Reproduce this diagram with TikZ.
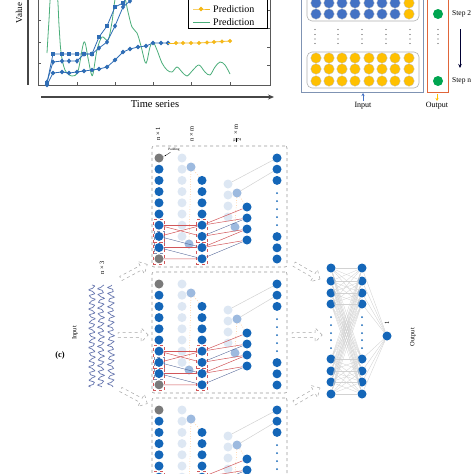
\documentclass[tikz,border=0pt]{standalone}
\usepackage{fontspec}
\setmainfont{Liberation Serif}
\usetikzlibrary{shapes.arrows,arrows.meta,fit,plotmarks}
\definecolor{cblue}{HTML}{1466B8}
\definecolor{cfade}{HTML}{DDE7F3}
\definecolor{cmed}{HTML}{9DBADF}
\definecolor{cgray}{HTML}{7A7A7A}
\definecolor{sblue}{HTML}{2F6DB5}
\definecolor{syel}{HTML}{F5B819}
\definecolor{sgreen}{HTML}{4BAE7A}
\definecolor{pblue}{HTML}{4472C4}
\definecolor{porange}{HTML}{FFC000}
\definecolor{pgreen}{HTML}{00A550}
\definecolor{pred}{HTML}{E0663A}
\definecolor{pframe}{HTML}{7F93B3}
\definecolor{rline}{HTML}{D2575A}
\definecolor{dline}{HTML}{4A5E92}
\definecolor{wave}{HTML}{6878B0}
\tikzset{
  myblue/.style={circle,fill=cblue,draw=none,minimum size=9pt,inner sep=0pt},
  myfade/.style={circle,fill=cfade,draw=none,minimum size=9pt,inner sep=0pt},
  mymid/.style={circle,fill=cmed,draw=none,minimum size=9pt,inner sep=0pt},
  mygray/.style={circle,fill=cgray,draw=none,minimum size=9pt,inner sep=0pt},
  mydot/.style={circle,fill=cblue,draw=none,minimum size=2pt,inner sep=0pt},
  mybox/.style={draw=gray!80,dashed,line width=0.6pt,rounded corners=2pt,inner sep=0pt},
  myrwin/.style={draw=rline,dashed,line width=0.45pt,inner sep=1pt,rectangle},
  mybwin/.style={draw=dline!70,dashed,line width=0.4pt,inner sep=0.5pt,rectangle},
  myrl/.style={draw=rline,line width=0.5pt},
  mydl/.style={draw=dline,line width=0.35pt},
  mygl/.style={draw=gray!35,line width=0.5pt},
  mydotl/.style={draw=orange!70,dotted,line width=0.5pt},
  myarrow/.style={single arrow,draw=gray!70,dashed,line width=0.5pt,minimum height=30pt,minimum width=14pt,single arrow head extend=2.5pt,inner sep=1pt,fill=white},
  mypc/.style={circle,draw=gray!50,line width=0.3pt,minimum size=10.5pt,inner sep=0pt},
  mypdot/.style={circle,fill=black!70,minimum size=1.1pt,inner sep=0pt},
  mylab/.style={font=\fontsize{6.5}{7}\selectfont,inner sep=0pt},
}
\newcommand{\cnnblock}[2]{%
\begin{scope}[shift={(0,#2)}]
 \node[mybox,minimum width=135pt,minimum height=121pt] (#1box) at (219.5,206.5) {};
 \foreach \i in {0,...,7} \node[myfade] (#1b\i) at (182,{158+11.2*\i}) {};
 \foreach \i in {0,...,3} \node[myfade] (#1d\i) at (228,{184+11*\i}) {};
 \node[mymid] (#1bm1) at (191,167) {};
 \node[mymid] (#1bm2) at (189,244) {};
 \node[mymid] (#1dm1) at (237,193) {};
 \node[mymid] (#1dm2) at (235,227) {};
 \node[mygray] (#1a0) at (159,158) {};
 \foreach \i in {1,...,8} \node[myblue] (#1a\i) at (159,{158+11.2*\i}) {};
 \node[mygray] (#1a9) at (159,258.8) {};
 \foreach \i in {2,...,9} \node[myblue] (#1c\i) at (202,{158+11.2*\i}) {};
 \foreach \i in {0,...,3} \node[myblue] (#1e\i) at (247,{207+11*\i}) {};
 \foreach \i in {0,1,2} \node[myblue] (#1f\i) at (277,{158+11.2*\i}) {};
 \foreach \i in {0,...,4} \node[mydot] (#1g\i) at (277,{193+8*\i}) {};
 \foreach \i in {3,4,5} \node[myblue] (#1f\i) at (277,{203+11.2*\i}) {};
 \draw[mygl] (#1d0) -- (#1f0);
 \draw[mygl] (#1dm1) -- (#1f1);
 \draw[mydotl] (#1bm1) -- (#1c2);
 \draw[mydotl] (#1bm1) -- (#1bm2);
 \draw[mydotl] (#1dm1) -- (#1e0);
 \draw[mydotl] (#1dm1) -- (#1dm2);
 \node[myrwin,fit=(#1a6)(#1a7)] (#1w1) {};
 \node[mybwin,fit=(#1a7)(#1a8)] (#1w2) {};
 \node[myrwin,fit=(#1a8)(#1a9)] (#1w3) {};
 \node[myrwin,fit=(#1c6)(#1c7)] (#1w4) {};
 \node[myrwin,fit=(#1c8)(#1c9)] (#1w5) {};
 \draw[myrl] (#1a6) -- (#1c6);
 \draw[myrl] (#1a6) -- (#1c7);
 \draw[mydl] (#1a7) -- (#1c8);
 \draw[myrl] (#1a7) -- (#1c6);
 \draw[mydl] (#1a8) -- (#1c9);
 \draw[myrl] (#1a8) -- (#1c8);
 \draw[myrl] (#1a9) -- (#1c9);
 \draw[myrl] (#1c6) -- (#1e1);
 \draw[myrl] (#1c6) -- (#1e0);
 \draw[myrl] (#1c7) -- (#1e2);
 \draw[mydl] (#1c7) -- (#1e1);
 \draw[myrl] (#1c8) -- (#1e2);
 \draw[myrl] (#1c8) -- (#1e3);
 \draw[mydl] (#1c9) -- (#1e3);
\end{scope}}
\begin{document}
\begin{tikzpicture}[x=1pt,y=-1pt]
\useasboundingbox (0,0) rectangle (474,474);
\clip (0,0) rectangle (474,474);
\fill[white] (0,0) rectangle (474,474);
% ---------------- (a) chart
\node[rotate=90,font=\fontsize{9}{10}\selectfont,inner sep=0.5pt] (vlab) at (19,13) {Value};
\draw[line width=1.6pt,gray!55!black] (28,-2) -- (28,85);
\draw[gray!70!black,line width=0.6pt] (38,-2) -- (38,85) -- (270,85) -- (270,-2);
\foreach \yy in {20,42,63} \draw[gray!70!black,line width=0.5pt] (38,\yy) -- (41,\yy);
\foreach \xx in {77,115,153,191,230} \draw[gray!70!black,line width=0.5pt] (\xx,85) -- (\xx,82);
\foreach \yy in {10,28,47,65} \draw[gray!70!black,line width=0.5pt] (270,\yy) -- (267,\yy);
\coordinate (tsA) at (41,97);
\coordinate (tsB) at (274,97);
\draw[line width=1.3pt,gray!55!black,-{Stealth[length=6pt,width=5pt]}] (tsA) -- (tsB);
\node[font=\fontsize{10.5}{11}\selectfont] (tslab) at (155,104.5) {Time series};
% green curve
\draw[sgreen,line width=0.8pt] plot[smooth,tension=0.55] coordinates {(47,53) (49,20) (51,-6) (57,-6) (59,25) (61,52) (65,70) (72,76) (78,71) (84,42) (88,58) (91,73) (93,74) (97,50) (102,37) (108,40) (112,22) (116,-4) (124,-4) (128,12) (132,27) (137,33) (141,46) (145,62) (147,61) (150,47) (153,42) (157,50) (162,63) (167,70) (172,72) (177,67) (182,72) (187,76) (193,70) (199,65) (205,72) (210,75) (215,67) (220,62) (225,65) (230,74)};
% blue series
\draw[sblue,line width=0.8pt] plot[mark=square*,mark size=1.7pt] coordinates {(47,83) (53,54) (62,54) (69,54) (77,54) (84,54) (92,54) (99,37) (107,26) (115,7) (123,3) (130,-8)};
\draw[sblue,line width=0.8pt] plot[mark=diamond*,mark size=2pt] coordinates {(47,82) (53,62) (62,61) (69,61) (77,61) (84,54) (92,54) (99,48) (107,42) (115,26) (123,7) (130,1) (136,-8)};
\draw[sblue,line width=0.8pt] plot[mark=*,mark size=1.7pt] coordinates {(47,85) (53,73) (62,72) (69,73) (77,72) (84,71) (92,70) (99,69) (107,67) (115,60) (123,52) (130,49) (138,47) (146,46) (153,43) (161,43) (168,43)};
\draw[syel,line width=0.8pt] plot[mark=*,mark size=1.6pt] coordinates {(176,43) (183,43) (191,43) (199,43) (207,42.5) (214,42) (222,41.5) (230,41)};
\draw[syel,line width=0.8pt] (168,43) -- (176,43);
% legend
\node[draw=black,line width=0.6pt,fill=white,minimum width=79pt,minimum height=31pt,inner sep=0pt] (legend) at (227.5,12.5) {};
\draw[syel,line width=0.9pt] plot[mark=*,mark size=1.8pt,mark indices={2}] coordinates {(193,9) (201,9) (210,9)};
\node[anchor=west,font=\fontsize{10}{11}\selectfont,inner sep=0pt] (leg1) at (213,9) {Prediction};
\draw[sgreen,line width=0.9pt] (193,22) -- (210,22);
\node[anchor=west,font=\fontsize{10}{11}\selectfont,inner sep=0pt] (leg2) at (213,22) {Prediction};
% ---------------- (b) panel
\draw[pframe,line width=0.9pt] (301,-2) rectangle (423,92);
\draw[gray!60,line width=0.6pt,rounded corners=5pt] (307,-6) rectangle (419,21);
\draw[gray!60,line width=0.6pt,rounded corners=5pt] (307,52) rectangle (419,88);
\foreach \xx [count=\k] in {316,329,342,355,369,382,395} {
  \node[mypc,fill=pblue] (tr1\k) at (\xx,3) {};
  \node[mypc,fill=pblue] (tr2\k) at (\xx,14) {};
}
\node[mypc,fill=porange] (tr18) at (409,3) {};
\node[mypc,fill=porange] (tr28) at (409,14) {};
\foreach \xx [count=\k] in {316,329,342,355,369,382,395,409} {
  \node[mypc,fill=porange] (br1\k) at (\xx,58) {};
  \node[mypc,fill=porange] (br2\k) at (\xx,69) {};
  \node[mypc,fill=porange] (br3\k) at (\xx,81) {};
}
\foreach \xx in {315,338,362,386,410,438} \foreach \yy in {29.5,34.5,39,43.5} \node[mypdot] at (\xx,\yy) {};
\draw[pred,line width=1pt] (427,-2) rectangle (448,92);
\node[circle,fill=pgreen,minimum size=10pt,inner sep=0pt] (g1) at (438,14) {};
\node[circle,fill=pgreen,minimum size=10pt,inner sep=0pt] (g2) at (438,81) {};
\node[anchor=west,font=\fontsize{7.5}{8}\selectfont,inner sep=0pt] (st2) at (452,14) {Step 2};
\node[anchor=west,font=\fontsize{7.5}{8}\selectfont,inner sep=0pt] (stn) at (452,81) {Step n};
\coordinate (sa) at (460,29);
\coordinate (sb) at (460,68);
\draw[black!80!blue,line width=0.5pt,-{Stealth[length=4pt,width=3.5pt]}] (sa) -- (sb);
\node[font=\fontsize{8}{9}\selectfont] (inlab) at (363,106) {Input};
\coordinate (ia) at (363,100.5);
\coordinate (ib) at (363,93);
\draw[pblue,line width=0.6pt,-{Stealth[length=3pt,width=3pt]}] (ia) -- (ib);
\node[font=\fontsize{8}{9}\selectfont] (outlab) at (437,106) {Output};
\coordinate (oa) at (437,94);
\coordinate (ob) at (437,101);
\draw[porange,line width=0.6pt,-{Stealth[length=3pt,width=3pt]}] (oa) -- (ob);
% ---------------- (c)
\node[font=\fontsize{8.5}{9}\selectfont\bfseries] (clab) at (60,355) {(c)};
\node[rotate=90,font=\fontsize{6.5}{7}\selectfont] (cin) at (75,333) {Input};
\node[rotate=90,mylab] (n3) at (102,268) {n × 3};
\foreach \xx/\ph in {92/0,101/70,111/140}
  \draw[wave,line width=0.7pt] plot[domain=0:102,samples=160,smooth] ({\xx+2.6*sin(56*\x+\ph)+0.8*sin(131*\x+2*\ph)},{285+\x});
\node[rotate=90,mylab] (l1) at (158,134) {n × 1};
\node[rotate=90,mylab] (l2) at (192,134) {n × m};
\node[rotate=90,mylab] (l3) at (237,134) {$\frac{n}{2}$ × m};
\cnnblock{A}{0}
\cnnblock{B}{126}
\cnnblock{C}{252}
\node[font=\fontsize{3.5}{4}\selectfont,inner sep=0.5pt] (pad) at (174,150) {Padding};
\node[circle,fill=black,minimum size=1.4pt,inner sep=0pt] (padot) at (165.5,155.5) {};
\draw[black,line width=0.3pt] (Aa0) -- (padot) -- (pad);
% block arrows
\node[myarrow,rotate=28] (al1) at (133,272) {};
\node[myarrow] (al2) at (132,335) {};
\node[myarrow,rotate=-28] (al3) at (133,396) {};
\node[myarrow,rotate=-30] (ar1) at (306,271) {};
\node[myarrow] (ar2) at (306,335) {};
\node[myarrow,rotate=30] (ar3) at (306,396) {};
% dense
\foreach \yy [count=\k] in {268,281,293,304,359,371,382,394} {
  \node[myblue] (na\k) at (331,\yy) {};
  \node[myblue] (nb\k) at (362,\yy) {};
}
\node[myblue] (nout) at (387,336) {};
\foreach \i in {1,...,8} \foreach \j in {1,...,8} \draw[mygl,line width=0.3pt] (na\i) -- (nb\j);
\foreach \i in {1,...,8} \draw[mygl,line width=0.35pt] (nb\i) -- (nout);
\foreach \yy in {317,325,333,340,348} {
  \node[mydot] at (331,\yy) {};
  \node[mydot] at (362,\yy) {};
}
\node[rotate=90,mylab] (one) at (387,323) {1};
\node[rotate=90,font=\fontsize{6.5}{7}\selectfont] (outc) at (413,337) {Output};
\end{tikzpicture}
\end{document}
